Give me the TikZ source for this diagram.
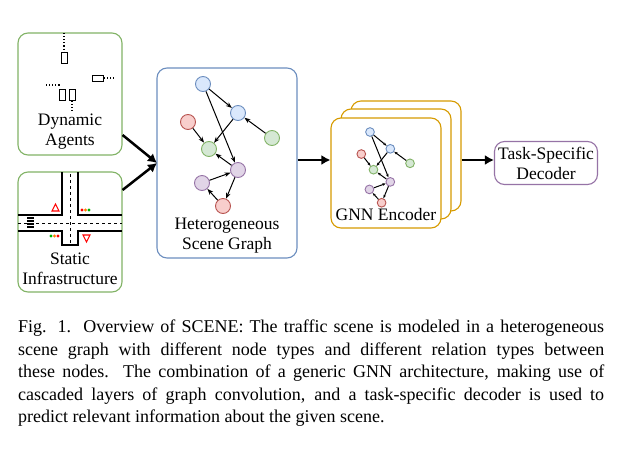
\documentclass[tikz,border=0pt]{standalone}
\usepackage{fontspec}
\setmainfont{Liberation Serif}
\usetikzlibrary{arrows.meta}
\definecolor{gbox}{HTML}{82B366}
\definecolor{bbox}{HTML}{6C8EBF}
\definecolor{obox}{HTML}{D79B00}
\definecolor{pbox}{HTML}{9673A6}
\definecolor{bfill}{HTML}{DAE8FC}
\definecolor{rfill}{HTML}{F8CECC}\definecolor{rline}{HTML}{B85450}
\definecolor{gfill}{HTML}{D5E8D4}
\definecolor{pfill}{HTML}{E1D5E7}
\tikzset{
 box/.style={draw, line width=1.1pt, rounded corners=10pt},
 lbl/.style={font=\fontsize{17.5}{20}\selectfont, align=center},
 big/.style={-{Latex[length=9pt,width=10pt]}, line width=2.5pt},
 gn/.style={circle, draw, line width=0.9pt, minimum size=#1, inner sep=0pt},
 bl/.style={fill=bfill, draw=bbox}, rd/.style={fill=rfill, draw=rline},
 gr/.style={fill=gfill, draw=gbox}, pu/.style={fill=pfill, draw=pbox},
 ge/.style={-{Stealth[length=#1]}, line width=1pt},
 car/.style={draw, line width=1pt, fill=white, inner sep=0pt},
 dots/.style={dotted, line width=1.1pt},
}
\newcommand\mygraph[4]{% prefix, origin x, origin y, scale
 \begin{scope}[shift={(#2,#3)}, x=#4pt, y=-#4pt]
  \node[gn=#4*15pt,bl] (#1a) at (0,0) {};
  \node[gn=#4*15pt,bl] (#1b) at (35,29) {};
  \node[gn=#4*15pt,rd] (#1c) at (-15,38) {};
  \node[gn=#4*15pt,gr] (#1d) at (6,65) {};
  \node[gn=#4*15pt,gr] (#1e) at (69,54) {};
  \node[gn=#4*15pt,pu] (#1f) at (35,86) {};
  \node[gn=#4*15pt,pu] (#1g) at (-1,99) {};
  \node[gn=#4*15pt,rd] (#1h) at (20,122) {};
  \draw[ge=#4*6pt] (#1a)--(#1b); \draw[ge=#4*6pt] (#1a)--(#1f);
  \draw[ge=#4*6pt] (#1c)--(#1d); \draw[ge=#4*6pt] (#1b)--(#1d);
  \draw[ge=#4*6pt] (#1e)--(#1b); \draw[ge=#4*6pt] (#1f)--(#1d);
  \draw[ge=#4*6pt] (#1g)--(#1f); \draw[ge=#4*6pt] (#1f)--(#1h);
  \draw[ge=#4*6pt] (#1h)--(#1g);
 \end{scope}}
\begin{document}
\begin{tikzpicture}[x=1pt,y=-1pt]
\useasboundingbox[fill=white] (0,0) rectangle (620,450);
% boxes
\node[box, draw=gbox, minimum width=104pt, minimum height=122pt] (dyn) at (70,94) {};
\node[box, draw=gbox, minimum width=104pt, minimum height=120pt] (sta) at (70,232) {};
\node[box, draw=bbox, minimum width=140pt, minimum height=190pt] (hsg) at (227,163) {};
\node[box, draw=obox, fill=white, minimum width=110pt, minimum height=110pt] (g3) at (406,156) {};
\node[box, draw=obox, fill=white, minimum width=110pt, minimum height=110pt] (g2) at (396,164) {};
\node[box, draw=obox, fill=white, minimum width=110pt, minimum height=110pt] (gnn) at (386,173) {};
\node[box, draw=pbox, minimum width=103pt, minimum height=43pt, lbl, inner sep=0pt] (dec) at (546,163) {Task-Specific\\Decoder};
% labels
\node[lbl] (tdyn) at (70,132) {Dynamic\\Agents};
\node[lbl] (tsta) at (70,269) {Static\\Infrastructure};
\node[lbl] (thsg) at (227,236) {Heterogeneous\\Scene Graph};
\node[lbl] (tgnn) at (386,215) {GNN Encoder};
% dynamic agents icons
\draw[dots] (64,33)--(64,52);
\node[car, minimum width=6pt, minimum height=11pt] (c1) at (64,58) {};
\node[car, minimum width=11pt, minimum height=6pt] (c2) at (98,78) {};
\draw[dots] (c2.east)--(116,78);
\draw[dots] (46,85)--(60,85);
\node[car, minimum width=6pt, minimum height=11pt] (c3) at (62,95) {};
\node[car, minimum width=6pt, minimum height=11pt] (c4) at (72,95) {};
\draw[dots] (c4.south)--(72,113);
% static infrastructure
\begin{scope}
\clip[rounded corners=10pt] (18,172) rectangle (122,292);
\draw[line width=1.1pt] (62,172)--(62,215)--(18,215);
\draw[line width=1.1pt] (78,172)--(78,215)--(122,215);
\draw[line width=1.1pt] (18,231)--(62,231)--(62,245)--(78,245)--(78,231)--(122,231);
\draw[dashed, line width=1pt] (70,174)--(70,244);
\draw[dashed, line width=1pt] (18,223)--(122,223);
\foreach \yy in {218,221,224,227} \draw[line width=1.3pt] (27,\yy)--(34,\yy);
\end{scope}
\draw[red, line width=1.1pt] (52,211)--(59,211)--(55.5,204)--cycle;
\draw[red, line width=1.1pt] (83,235)--(90,235)--(86.5,242)--cycle;
\fill[red] (82,210) circle (1.6pt); \fill[orange] (85.5,210) circle (1.6pt); \fill[green!70!black] (89,210) circle (1.6pt);
\fill[green!70!black] (51,236) circle (1.6pt); \fill[orange] (54.5,236) circle (1.6pt); \fill[red] (58,236) circle (1.6pt);
% graphs
\mygraph{s}{203}{84}{1}
\mygraph{t}{370}{132}{0.58}
% arrows
\coordinate (m) at (157,163);
\draw[big] (dyn.east|-0,135) -- (m);
\draw[big] (sta.east|-0,190) -- (m);
\draw[big] (hsg.east|-0,160) -- (gnn.west|-0,160);
\draw[big] (g3.east|-0,160) -- (dec.west|-0,160);
% caption
\node[anchor=north west, text width=586pt, align=justify, inner sep=0pt, font=\fontsize{18}{22.5}\selectfont] (cap) at (18,320)
{Fig. 1.\ \ Overview of SCENE: The traffic scene is modeled in a heterogeneous\linebreak scene graph with different node types and different relation types between\linebreak these nodes. The combination of a generic GNN architecture, making use of\linebreak cascaded layers of graph convolution, and a task-specific decoder is used to\linebreak predict relevant information about the given scene.};
\end{tikzpicture}
\end{document}
